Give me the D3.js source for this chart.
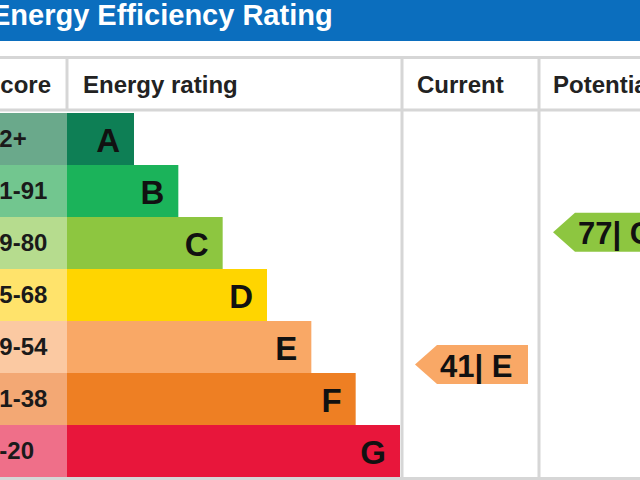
<!DOCTYPE html>
<html>
<head>
<meta charset="utf-8">
<script src="https://cdn.jsdelivr.net/npm/d3@7"></script>
<style>
  body { margin: 0; background: #fff; }
  svg { display: block; font-family: "Liberation Sans", Arial, sans-serif; }
</style>
</head>
<body>
<div id="chart"></div>
<script>
// Data
var bands        = ["A", "B", "C", "D", "E", "F", "G"];
var scoreLabels  = ["92+", "81-91", "69-80", "55-68", "39-54", "21-38", "1-20"];
var bandMin      = [92, 81, 69, 55, 39, 21, 1];
var headers      = ["Score", "Energy rating", "Current", "Potential"];
var title        = "Energy Efficiency Rating";
var currentScore   = 41;
var currentBand    = "E";
var potentialScore = 77;
var potentialBand  = "C";

// Palette
var bandColors  = ["#0e7f55", "#1bb35a", "#8dc640", "#ffd500", "#f9a866", "#ee7f23", "#e8163b"];
var scoreColors = ["#6aa98b", "#72c68f", "#b6dc8e", "#ffe36b", "#fbc9a2", "#f3a874", "#ef6f89"];
var gridColor   = "#d6d6d6";

var width  = 640,
    height = 480;

var svg = d3.select("#chart")
    .append("svg")
    .attr("width", width)
    .attr("height", height);

// Rows and bar lengths
var y = d3.scaleBand()
    .domain(bands)
    .range([113, 477]);

var barEnd = d3.scaleLinear()
    .domain([0, bands.length - 1])
    .range([134, 400]);

// Score -> vertical position (bottom edge of each band at its minimum score)
var yScore = d3.scaleLinear()
    .domain(bandMin)
    .range(bands.map(function(b) { return y(b) + y.bandwidth(); }));

// Columns
var ratingLeft    = 67,
    currentLeft   = 402,
    potentialLeft = 539;

// Title bar
svg.append("rect")
    .attr("x", 0).attr("y", 0)
    .attr("width", width).attr("height", 41)
    .style("fill", "#0b6ebe");

svg.append("text")
    .attr("x", -9).attr("y", 25)
    .style("font-size", "29px")
    .style("font-weight", "bold")
    .style("fill", "#fff")
    .text(title);

// Header labels
var headerX = [51, 83, 417, 553];
svg.selectAll("text.header")
    .data(headers)
    .enter()
    .append("text")
    .attr("class", "header")
    .attr("x", function(d, i) { return headerX[i]; })
    .attr("y", 93)
    .attr("text-anchor", function(d, i) { return i === 0 ? "end" : "start"; })
    .style("font-size", "24px")
    .style("font-weight", "bold")
    .style("fill", "#222")
    .text(function(d) { return d; });

// Score cells
svg.selectAll("rect.score")
    .data(bands)
    .enter()
    .append("rect")
    .attr("class", "score")
    .attr("x", -30)
    .attr("y", function(d) { return y(d); })
    .attr("width", ratingLeft + 30)
    .attr("height", y.bandwidth())
    .style("fill", function(d, i) { return scoreColors[i]; });

svg.selectAll("text.score")
    .data(scoreLabels)
    .enter()
    .append("text")
    .attr("class", "score")
    .attr("x", -14)
    .attr("y", function(d, i) { return y(bands[i]) + y.bandwidth() / 2 + 8; })
    .style("font-size", "24px")
    .style("font-weight", "bold")
    .style("fill", "#1a1a1a")
    .text(function(d) { return d; });

// Bars
svg.selectAll("rect.bar")
    .data(bands)
    .enter()
    .append("rect")
    .attr("class", "bar")
    .attr("x", ratingLeft)
    .attr("y", function(d) { return y(d); })
    .attr("width", function(d, i) { return barEnd(i) - ratingLeft; })
    .attr("height", y.bandwidth())
    .style("fill", function(d, i) { return bandColors[i]; });

svg.selectAll("text.bar")
    .data(bands)
    .enter()
    .append("text")
    .attr("class", "bar")
    .attr("x", function(d, i) { return barEnd(i) - 14; })
    .attr("y", function(d) { return y(d) + y.bandwidth() / 2 + 13; })
    .attr("text-anchor", "end")
    .style("font-size", "33px")
    .style("font-weight", "bold")
    .style("fill", "#111")
    .text(function(d) { return d; });

// Grid lines
var hLines = [57.5, 110, 478.5];
svg.selectAll("line.h")
    .data(hLines)
    .enter()
    .append("line")
    .attr("x1", 0).attr("x2", width)
    .attr("y1", function(d) { return d; })
    .attr("y2", function(d) { return d; })
    .style("stroke", gridColor)
    .style("stroke-width", 3);

svg.append("line")
    .attr("x1", ratingLeft).attr("x2", ratingLeft)
    .attr("y1", 56).attr("y2", 111)
    .style("stroke", gridColor)
    .style("stroke-width", 3);

[currentLeft, potentialLeft].forEach(function(x) {
    svg.append("line")
        .attr("x1", x).attr("x2", x)
        .attr("y1", 56).attr("y2", height)
        .style("stroke", gridColor)
        .style("stroke-width", 3);
});

// Rating arrows
function arrow(x0, len, score, band) {
    var cy = yScore(score) - 2,
        h = 19.5,
        tip = 22;
    var pts = [[x0, cy], [x0 + tip, cy - h], [x0 + len, cy - h],
               [x0 + len, cy + h], [x0 + tip, cy + h]];
    svg.append("path")
        .attr("d", d3.line()(pts) + "Z")
        .style("fill", bandColors[bands.indexOf(band)]);
    svg.append("text")
        .attr("x", x0 + 25)
        .attr("y", cy + 12)
        .style("font-size", "31px")
        .style("font-weight", "bold")
        .style("fill", "#111")
        .text(score + "| " + band);
}

arrow(currentLeft + 13, 113, currentScore, currentBand);
arrow(potentialLeft + 14, 113, potentialScore, potentialBand);
</script>
</body>
</html>
